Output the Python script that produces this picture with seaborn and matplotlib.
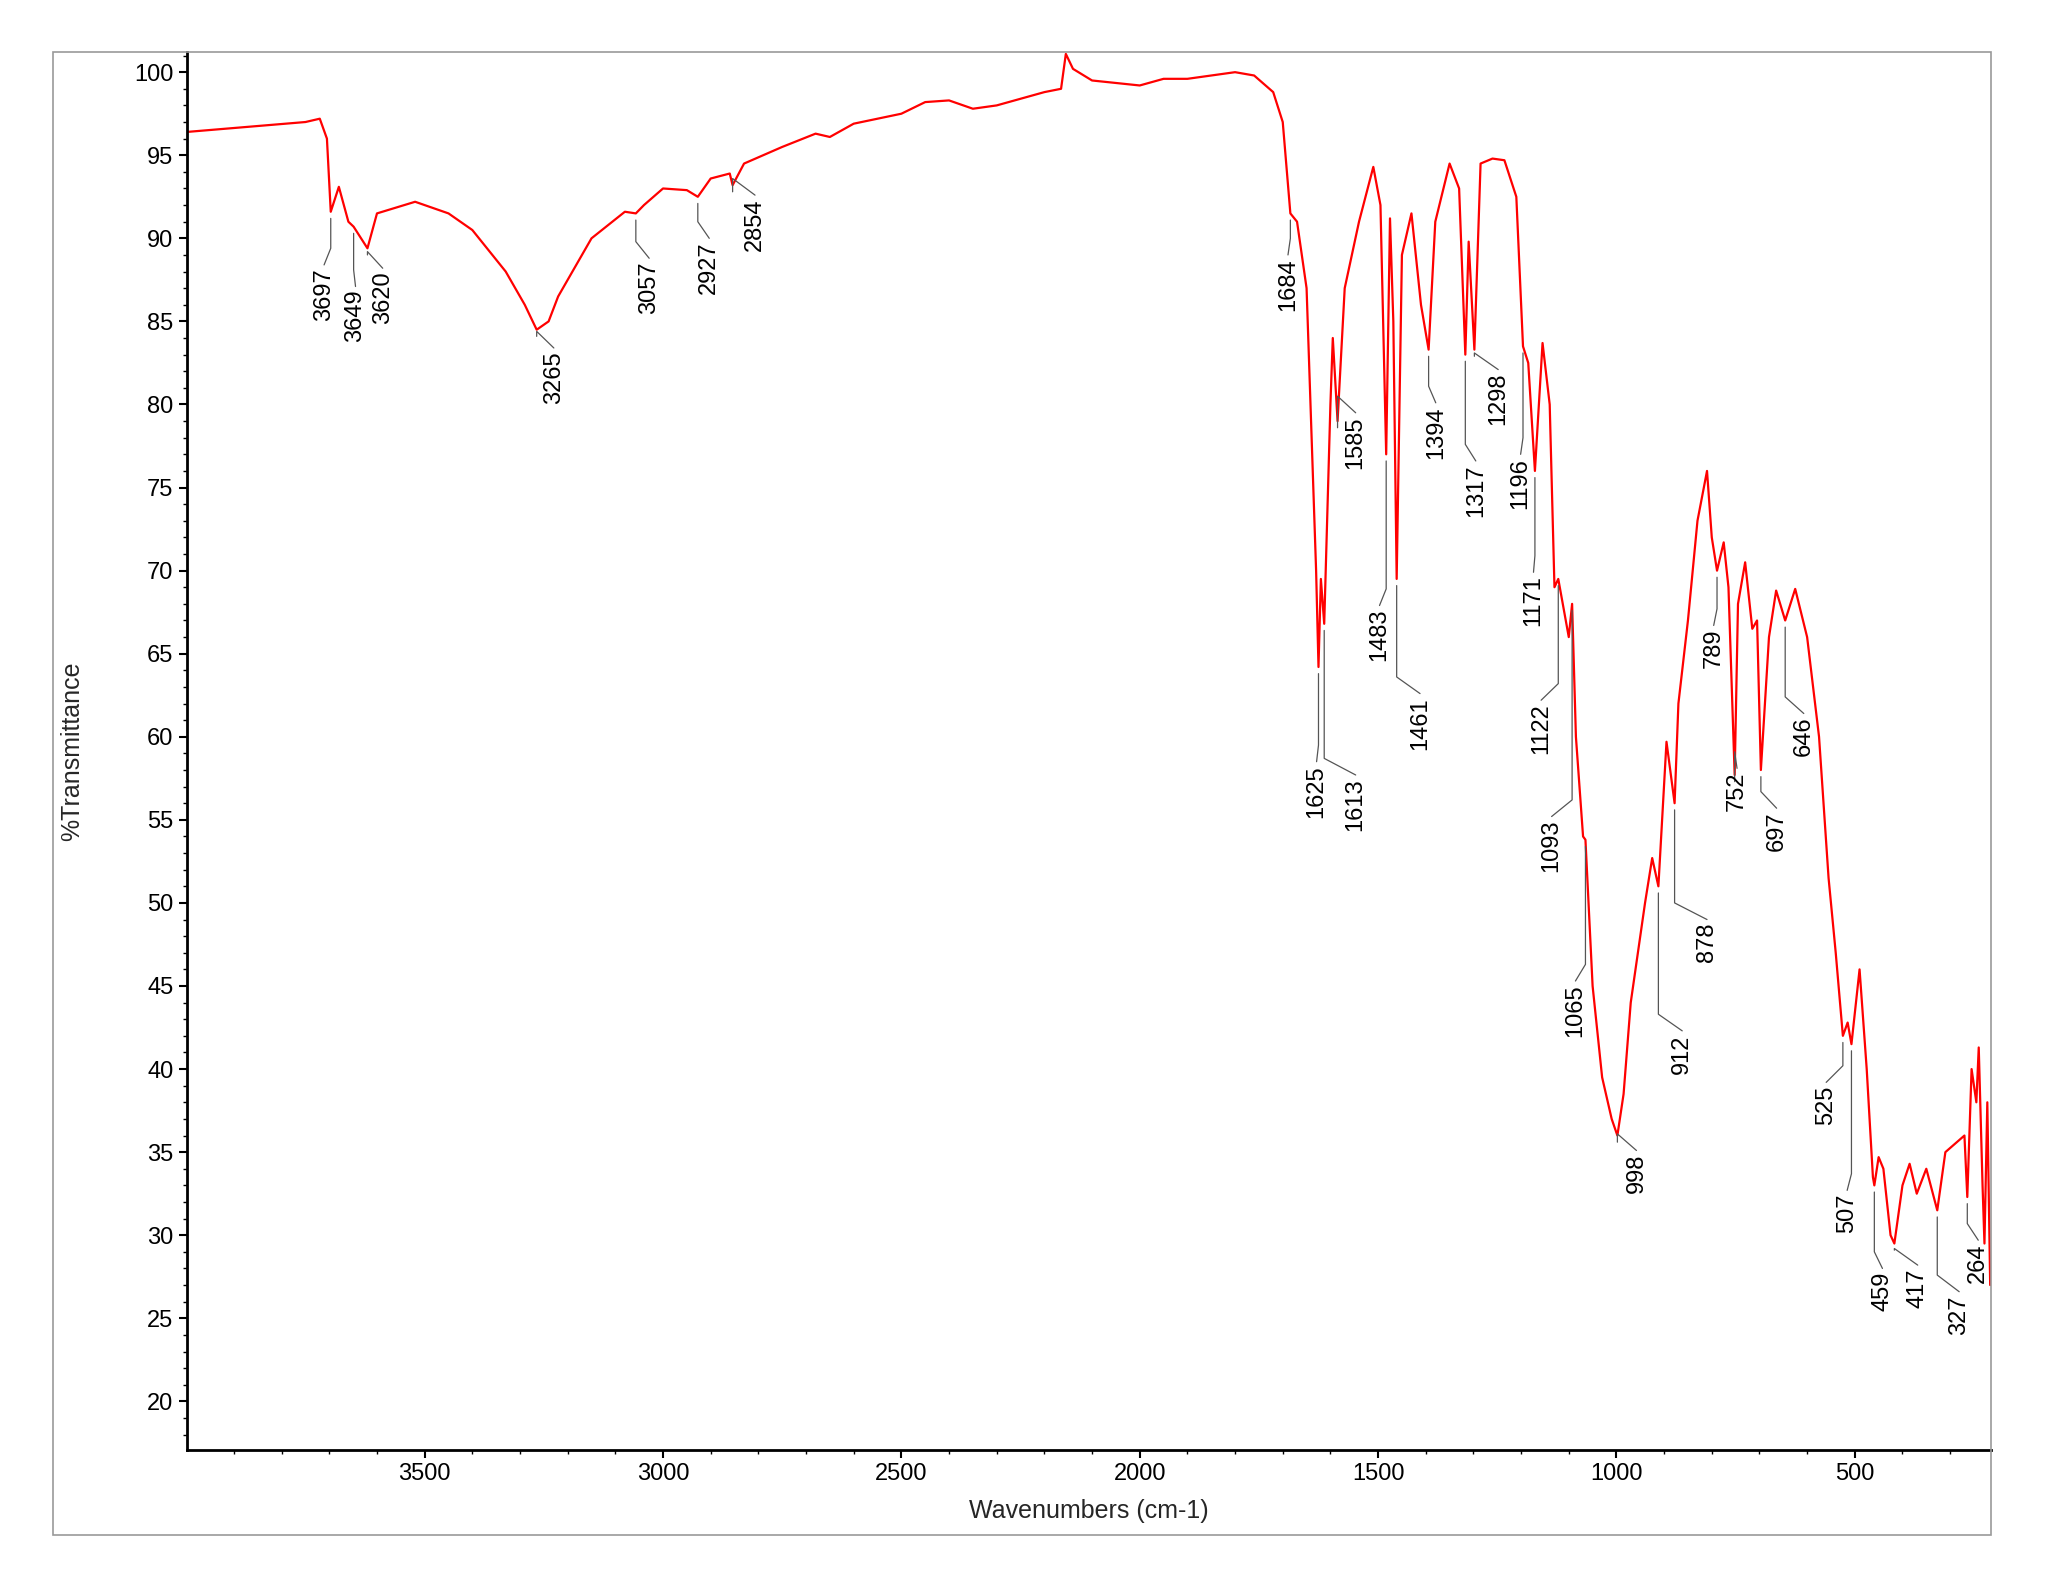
import matplotlib
matplotlib.use("Agg")
import matplotlib.pyplot as plt
import seaborn as sns
import pandas as pd
from matplotlib.patches import Rectangle
from matplotlib.ticker import MultipleLocator

wavenumber = [4000, 3750, 3720, 3705, 3697, 3680, 3660, 3649, 3620, 3600, 3520, 3450, 3400, 3330, 3290, 3265, 3240, 3220,
              3150, 3080, 3057, 3040, 3000, 2950, 2927, 2900, 2860, 2854, 2830, 2750, 2680, 2650, 2600,
              2500, 2450, 2400, 2350, 2300, 2200, 2165, 2155, 2140, 2100, 2000, 1950, 1900, 1800, 1760,
              1720, 1700, 1684, 1670, 1650, 1630, 1625, 1620, 1613, 1600, 1595, 1585, 1570, 1540, 1510,
              1495, 1483, 1475, 1468, 1461, 1450, 1430, 1410, 1394, 1380, 1350, 1330, 1317, 1310, 1298,
              1285, 1260, 1235, 1210, 1196, 1185, 1171, 1155, 1140, 1130, 1122, 1100, 1093, 1085, 1070,
              1065, 1050, 1030, 1010, 998, 985, 970, 940, 925, 912, 895, 878, 870, 850, 830, 810, 800, 789,
              775, 765, 752, 745, 730, 715, 705, 697, 680, 665, 646, 625, 600, 575, 555, 540, 525, 515,
              507, 490, 475, 462, 459, 450, 440, 425, 417, 400, 385, 370, 350, 327, 310, 290, 270, 264,
              255, 245, 240, 232, 228, 222, 216]
transmittance = [96.4, 97.0, 97.2, 96.0, 91.6, 93.1, 91.0, 90.7, 89.4, 91.5, 92.2, 91.5, 90.5, 88.0, 86.0, 84.5, 85.0, 86.5,
                 90.0, 91.6, 91.5, 92.0, 93.0, 92.9, 92.5, 93.6, 93.9, 93.2, 94.5, 95.5, 96.3, 96.1, 96.9,
                 97.5, 98.2, 98.3, 97.8, 98.0, 98.8, 99.0, 101.1, 100.2, 99.5, 99.2, 99.6, 99.6, 100.0, 99.8,
                 98.8, 97.0, 91.5, 91.0, 87.0, 70.0, 64.2, 69.5, 66.8, 80.0, 84.0, 79.0, 87.0, 91.0, 94.3,
                 92.0, 77.0, 91.2, 85.0, 69.5, 89.0, 91.5, 86.0, 83.3, 91.0, 94.5, 93.0, 83.0, 89.8, 83.3,
                 94.5, 94.8, 94.7, 92.5, 83.5, 82.5, 76.0, 83.7, 80.0, 69.0, 69.5, 66.0, 68.0, 60.0, 54.0,
                 53.8, 45.0, 39.5, 37.0, 36.0, 38.5, 44.0, 50.0, 52.7, 51.0, 59.7, 56.0, 62.0, 67.0, 73.0, 76.0, 72.0, 70.0,
                 71.7, 69.0, 57.7, 68.0, 70.5, 66.5, 67.0, 58.0, 66.0, 68.8, 67.0, 68.9, 66.0, 60.0, 51.5, 47.0, 42.0, 42.8,
                 41.5, 46.0, 40.0, 33.5, 33.0, 34.7, 34.0, 30.0, 29.5, 33.0, 34.3, 32.5, 34.0, 31.5, 35.0, 35.5, 36.0, 32.3,
                 40.0, 38.0, 41.3, 33.0, 29.5, 38.0, 27.0]

peak_labels = [3697, 3649, 3620, 3265, 3057, 2927, 2854, 1684, 1625, 1613, 1585, 1483, 1461, 1394, 1317,
               1298, 1196, 1171, 1122, 1093, 1065, 998, 912, 878, 789, 752, 697, 646, 525, 507, 459, 417, 327, 264]
peak_T = [91.6, 90.7, 89.4, 84.5, 91.5, 92.5, 93.2, 91.5, 64.2, 66.8, 79.0, 77.0, 69.5, 83.3, 83.0,
          83.3, 83.5, 76.0, 69.5, 68.0, 53.8, 36.0, 51.0, 56.0, 70.0, 57.7, 58.0, 67.0, 42.0, 41.5, 33.0, 29.5, 31.5, 32.3]
label_wn = [3711, 3645, 3588, 3229, 3029, 2903, 2807, 1689, 1629, 1547, 1547, 1497, 1412, 1379, 1295,
            1248, 1201, 1174, 1158, 1136, 1086, 958, 862, 810, 796, 747, 664, 607, 560, 516, 442, 368, 281, 241]
label_T = [88.2, 86.9, 88.0, 83.2, 88.6, 89.8, 92.4, 88.8, 58.3, 57.5, 79.3, 67.7, 62.4, 79.9, 76.4,
           81.9, 76.8, 69.7, 62.0, 55.0, 45.1, 34.9, 42.1, 48.8, 66.5, 57.9, 55.5, 61.2, 39.0, 32.5, 27.8, 28.0, 26.4, 29.5]

sns.set_style("ticks")
plt.rcParams['font.family'] = ['Liberation Sans', 'DejaVu Sans']
plt.rcParams['text.color'] = 'black'
plt.rcParams['xtick.color'] = 'black'
plt.rcParams['ytick.color'] = 'black'
fig = plt.figure(figsize=(20.48, 15.83), dpi=100)
fig.patches.append(Rectangle((0.026, 0.0306), 0.946, 0.9364, transform=fig.transFigure,
                             fill=False, edgecolor='#999999', linewidth=1.2))
ax = fig.add_axes([0.0912, 0.0843, 0.8808, 0.8827])
df = pd.DataFrame({"wn": wavenumber, "T": transmittance})
sns.lineplot(data=df, x="wn", y="T", sort=False, color="red", linewidth=1.6, ax=ax)

for p, pt, lw, lt in zip(peak_labels, peak_T, label_wn, label_T):
    knee = lt + 1.2
    top = pt - 0.4
    ax.plot([lw, p, p], [lt + 0.2, knee, top], color="#555555", linewidth=0.9)
    ax.text(lw, lt, str(p), rotation=90, ha="center", va="top", fontsize=17)

ax.set_xlim(3999, 215)
ax.set_ylim(17.1, 101.2)
ax.xaxis.set_major_locator(MultipleLocator(500))
ax.xaxis.set_minor_locator(MultipleLocator(100))
ax.yaxis.set_minor_locator(MultipleLocator(1))
ax.set_yticks(range(20, 101, 5))
ax.tick_params(axis='both', which='major', labelsize=17, length=6, width=1.5)
ax.tick_params(axis='both', which='minor', length=3, width=1)
ax.set_xlabel("Wavenumbers (cm-1)", fontsize=18, labelpad=10)
ax.set_ylabel("%Transmittance", fontsize=18, labelpad=36)
for s in ['top', 'right']:
    ax.spines[s].set_visible(False)
for s in ['left', 'bottom']:
    ax.spines[s].set_linewidth(2)
    ax.spines[s].set_color('black')
fig.savefig("out.png", dpi=100)
